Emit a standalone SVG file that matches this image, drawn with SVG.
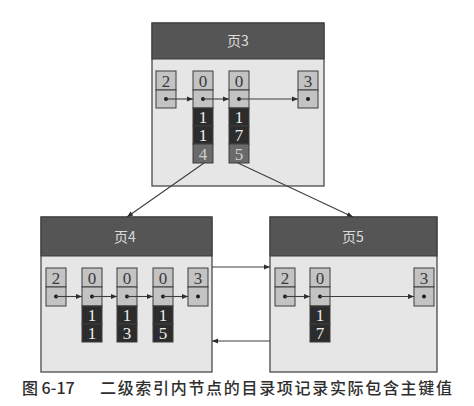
<svg xmlns="http://www.w3.org/2000/svg" width="474" height="406" viewBox="0 0 474 406">
<style>
.page{fill:#e6e6e6;stroke:#4a4a4a;stroke-width:1.3}
.hdr{fill:#555555;stroke:#3a3a3a;stroke-width:1}
.htxt{font-family:"Noto Sans CJK SC","Noto Sans",sans-serif;font-size:14px;fill:#dcdcdc;text-anchor:middle}
.lc{fill:#c3c3c3;stroke:#3c3c3c;stroke-width:1}
.dc{fill:#2c2c2c;stroke:#3c3c3c;stroke-width:1}
.gc{fill:#6a6a6a;stroke:#3c3c3c;stroke-width:1}
.t{font-family:"Liberation Serif",serif;font-size:17px;text-anchor:middle;fill:#3a3a3a}
.tw{font-family:"Liberation Serif",serif;font-size:17px;text-anchor:middle;fill:#ececec}
.tg{font-family:"Liberation Serif",serif;font-size:17px;text-anchor:middle;fill:#cfcfcf}
.dot{fill:#1e1e1e}
.ln{stroke:#3e3e3e;stroke-width:1.1;fill:none;marker-end:url(#ah)}
.cap{font-family:"Noto Sans CJK SC","Noto Sans",sans-serif;font-size:16px;font-weight:500;fill:#2e2e2e}
</style>
<defs>
<marker id="ah" viewBox="0 0 10 10" refX="10" refY="5" markerWidth="7" markerHeight="6" orient="auto" markerUnits="userSpaceOnUse">
<path d="M0,1 L10,5 L0,9 Z" fill="#2e2e2e"/>
</marker>
</defs>

<g id="page3">
<rect class="page" x="152" y="23" width="172" height="163"/>
<rect class="hdr" x="152" y="23" width="172" height="36"/>
<text class="htxt" x="238" y="46">页3</text>
<rect class="lc" x="156" y="71" width="20" height="19"/><text class="t" x="166" y="87">2</text>
<rect class="lc" x="156" y="90" width="20" height="18"/><circle class="dot" cx="166" cy="99" r="2"/>
<rect class="lc" x="193" y="71" width="20" height="19"/><text class="t" x="203" y="87">0</text>
<rect class="lc" x="193" y="90" width="20" height="18"/><circle class="dot" cx="203" cy="99" r="2"/>
<rect class="dc" x="193" y="108" width="20" height="18"/><text class="tw" x="203" y="123">1</text>
<rect class="dc" x="193" y="126" width="20" height="18"/><text class="tw" x="203" y="141">1</text>
<rect class="gc" x="193" y="144" width="20" height="19"/><text class="tg" x="203" y="160">4</text>
<rect class="lc" x="229" y="71" width="20" height="19"/><text class="t" x="239" y="87">0</text>
<rect class="lc" x="229" y="90" width="20" height="18"/><circle class="dot" cx="239" cy="99" r="2"/>
<rect class="dc" x="229" y="108" width="20" height="18"/><text class="tw" x="239" y="123">1</text>
<rect class="dc" x="229" y="126" width="20" height="18"/><text class="tw" x="239" y="141">7</text>
<rect class="gc" x="229" y="144" width="20" height="19"/><text class="tg" x="239" y="160">5</text>
<rect class="lc" x="298" y="71" width="20" height="19"/><text class="t" x="308" y="87">3</text>
<rect class="lc" x="298" y="90" width="20" height="18"/><circle class="dot" cx="308" cy="99" r="2"/>
</g>

<g id="page4">
<rect class="page" x="41" y="217" width="171" height="155"/>
<rect class="hdr" x="41" y="217" width="171" height="39"/>
<text class="htxt" x="125" y="242">页4</text>
<rect class="lc" x="46" y="268" width="20" height="19"/><text class="t" x="56" y="284">2</text>
<rect class="lc" x="46" y="287" width="20" height="19"/><circle class="dot" cx="56" cy="296.5" r="2"/>
<rect class="lc" x="82" y="268" width="20" height="19"/><text class="t" x="92" y="284">0</text>
<rect class="lc" x="82" y="287" width="20" height="19"/><circle class="dot" cx="92" cy="296.5" r="2"/>
<rect class="dc" x="82" y="306" width="20" height="18"/><text class="tw" x="92" y="321">1</text>
<rect class="dc" x="82" y="324" width="20" height="18"/><text class="tw" x="92" y="339">1</text>
<rect class="lc" x="117" y="268" width="20" height="19"/><text class="t" x="127" y="284">0</text>
<rect class="lc" x="117" y="287" width="20" height="19"/><circle class="dot" cx="127" cy="296.5" r="2"/>
<rect class="dc" x="117" y="306" width="20" height="18"/><text class="tw" x="127" y="321">1</text>
<rect class="dc" x="117" y="324" width="20" height="18"/><text class="tw" x="127" y="339">3</text>
<rect class="lc" x="153" y="268" width="20" height="19"/><text class="t" x="163" y="284">0</text>
<rect class="lc" x="153" y="287" width="20" height="19"/><circle class="dot" cx="163" cy="296.5" r="2"/>
<rect class="dc" x="153" y="306" width="20" height="18"/><text class="tw" x="163" y="321">1</text>
<rect class="dc" x="153" y="324" width="20" height="18"/><text class="tw" x="163" y="339">5</text>
<rect class="lc" x="188" y="268" width="20" height="19"/><text class="t" x="198" y="284">3</text>
<rect class="lc" x="188" y="287" width="20" height="19"/><circle class="dot" cx="198" cy="296.5" r="2"/>
</g>

<g id="page5">
<rect class="page" x="270" y="217" width="167" height="155"/>
<rect class="hdr" x="270" y="217" width="167" height="39"/>
<text class="htxt" x="353" y="242">页5</text>
<rect class="lc" x="275" y="268" width="20" height="19"/><text class="t" x="285" y="284">2</text>
<rect class="lc" x="275" y="287" width="20" height="19"/><circle class="dot" cx="285" cy="296.5" r="2"/>
<rect class="lc" x="310" y="268" width="20" height="19"/><text class="t" x="320" y="284">0</text>
<rect class="lc" x="310" y="287" width="20" height="19"/><circle class="dot" cx="320" cy="296.5" r="2"/>
<rect class="dc" x="310" y="306" width="20" height="18"/><text class="tw" x="320" y="321">1</text>
<rect class="dc" x="310" y="324" width="20" height="18"/><text class="tw" x="320" y="339">7</text>
<rect class="lc" x="414" y="268" width="20" height="19"/><text class="t" x="424" y="284">3</text>
<rect class="lc" x="414" y="287" width="20" height="19"/><circle class="dot" cx="424" cy="296.5" r="2"/>
</g>

<g id="connectors">
<line class="ln" x1="166" y1="99" x2="193" y2="99"/>
<line class="ln" x1="203" y1="99" x2="229" y2="99"/>
<line class="ln" x1="239" y1="99" x2="298" y2="99"/>
<line class="ln" x1="204" y1="163" x2="127" y2="217"/>
<line class="ln" x1="238" y1="163" x2="353" y2="217"/>
<line class="ln" x1="56" y1="296.5" x2="82" y2="296.5"/>
<line class="ln" x1="92" y1="296.5" x2="117" y2="296.5"/>
<line class="ln" x1="127" y1="296.5" x2="153" y2="296.5"/>
<line class="ln" x1="163" y1="296.5" x2="188" y2="296.5"/>
<line class="ln" x1="285" y1="296.5" x2="310" y2="296.5"/>
<line class="ln" x1="320" y1="296.5" x2="414" y2="296.5"/>
<line class="ln" x1="212" y1="267" x2="270" y2="267"/>
<line class="ln" x1="270" y1="341" x2="212" y2="341"/>
</g>

<g id="caption">
<text class="cap" x="22" y="394">图 6-17</text>
<text class="cap" x="100" y="394" textLength="352" lengthAdjust="spacing">二级索引内节点的目录项记录实际包含主键值</text>
</g>
</svg>
